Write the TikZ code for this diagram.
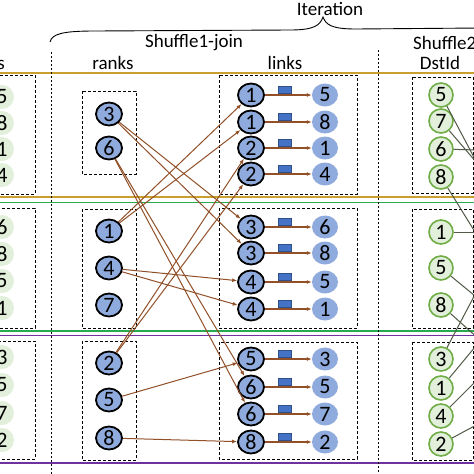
\documentclass[tikz,border=0pt]{standalone}
\usepackage{fontspec}
\setmainfont{Carlito}
\usetikzlibrary{arrows.meta,shapes.geometric}
\definecolor{gold}{RGB}{201,160,45}
\definecolor{grn}{RGB}{40,170,80}
\definecolor{purp}{RGB}{112,48,160}
\definecolor{blu}{RGB}{143,170,220}
\definecolor{rectc}{RGB}{68,114,196}
\definecolor{brn}{RGB}{145,80,40}
\definecolor{gfill}{RGB}{226,239,218}
\definecolor{gline}{RGB}{112,173,71}
\definecolor{dline}{RGB}{80,90,70}
\newcommand\digfont{\fontsize{22}{22}\selectfont}
\newcommand\hdrfont{\fontsize{19}{19}\selectfont}
\begin{document}
\begin{tikzpicture}[x=1pt,y=-1pt,
 rk/.style={ellipse,draw=black,line width=1.8pt,fill=blu,minimum width=26pt,minimum height=23pt,inner sep=0pt,font=\digfont},
 tg/.style={ellipse,fill=blu,minimum width=26pt,minimum height=23pt,inner sep=0pt,font=\digfont},
 dst/.style={circle,draw=gline,line width=1.6pt,fill=gfill,minimum size=24pt,inner sep=0pt,font=\digfont},
 lv/.style={circle,fill=gfill,minimum size=24pt,inner sep=0pt,font=\digfont},
 bx/.style={draw=black,line width=1pt,dash pattern=on 3pt off 2pt},
 hdr/.style={font=\hdrfont,inner sep=0pt},
 conn/.style={brn,line width=1pt,-{Latex[length=5pt,width=4pt]}},
 inarr/.style={brn,line width=1.4pt,-{Latex[length=5pt,width=4pt]}},
 sq/.style={rectangle,fill=rectc,draw=rectc!70!black,line width=0.3pt,minimum width=13pt,minimum height=7pt,inner sep=0pt},
 dl/.style={dline,line width=1pt},
 vsep/.style={black,line width=0.9pt,dash pattern=on 2pt off 2pt},
 hl/.style={line width=1.8pt}
]
\useasboundingbox (0,0) rectangle (474,474);
\clip (0,0) rectangle (474,474);
\fill[white] (0,0) rectangle (474,474);

% headers
\node[hdr] (hit) at (330,9) {Iteration};
\node[hdr] (hs1) at (194,43) {Shuffle1-join};
\node[hdr,anchor=west] (hs2) at (413,43) {Shuffle2};
\node[hdr] (hrk) at (113,63) {ranks};
\node[hdr] (hlk) at (285,63) {links};
\node[hdr] (hds) at (440,63) {DstId};
\node[hdr,anchor=east] (hlf) at (5,63) {ranks};

% brace
\draw[line width=0.9pt] (50,42) .. controls (52,34) and (62,31) .. (95,31) -- (290,30) .. controls (315,30) and (320,25) .. (323,17) .. controls (326,25) and (332,29) .. (356,29) -- (480,28);

% horizontal lines
\draw[gold,hl] (0,73) -- (474,73);
\draw[gold,hl] (0,197) -- (474,197);
\draw[grn,hl] (0,202.5) -- (474,202.5);
\draw[grn,hl] (0,331) -- (474,331);
\draw[purp,hl] (0,335.5) -- (474,335.5);
\draw[purp,hl] (0,463) -- (474,463);

% vertical separators
\draw[vsep] (51,52) -- (51,474);
\draw[vsep] (378,50) -- (378,474);

% boxes
\draw[bx] (-10,75) rectangle (35,194);
\draw[bx] (-10,208) rectangle (35,328);
\draw[bx] (-10,341) rectangle (35,459);
\draw[bx] (82,91) rectangle (136,174);
\draw[bx] (82,209) rectangle (136,328);
\draw[bx] (82,341) rectangle (136,460);
\draw[bx] (219,75) rectangle (357,194);
\draw[bx] (219,208) rectangle (357,328);
\draw[bx] (219,342) rectangle (357,459);
\draw[bx] (412,77) rectangle (473,193);
\draw[bx] (412,209) rectangle (473,328);
\draw[bx] (412,342) rectangle (473,460);

% left column values
\foreach \n/\y/\t in {1/97/5,2/123/8,3/149/1,4/175/4,5/227/6,6/254/8,7/281/5,8/308/1,9/357/3,10/385/5,11/413/7,12/440/2}
  \node[lv] (v\n) at (2,\y) {\t};

% ranks
\node[rk] (r3) at (109,114) {3};
\node[rk] (r6) at (109,148) {6};
\node[rk] (r1) at (109,231) {1};
\node[rk] (r4) at (109,268) {4};
\node[rk] (r7) at (109,305) {7};
\node[rk] (r2) at (109,363) {2};
\node[rk] (r5) at (109,400) {5};
\node[rk] (r8) at (109,438) {8};

% links
\foreach \n/\y/\a/\b in {1/95/1/5,2/122/1/8,3/148/2/1,4/174/2/4,5/227/3/6,6/253/3/8,7/282/4/5,8/309/4/1,9/359/5/3,10/387/6/5,11/414/6/7,12/442/8/2}{
  \node[rk] (s\n) at (251,\y) {\a};
  \node[tg] (t\n) at (325,\y) {\b};
  \node[sq] (b\n) at (284.5,\y-5) {};
  \draw[inarr] (s\n) -- (t\n);
}

% ranks -> links
\draw[conn] (r3) -- (s5);
\draw[conn] (r3) -- (s6);
\draw[conn] (r6) -- (s10);
\draw[conn] (r6) -- (s11);
\draw[conn] (r1) -- (s1);
\draw[conn] (r1) -- (s2);
\draw[conn] (r4) -- (s7);
\draw[conn] (r4) -- (s8);
\draw[conn] (r2) -- (s3);
\draw[conn] (r2) -- (s4);
\draw[conn] (r5) -- (s9);
\draw[conn] (r8) -- (s12);

% DstId
\foreach \n/\y/\t in {1/95/5,2/121/7,3/149/6,4/177/8,5/232/1,6/268/5,7/305/8,8/359/3,9/388/1,10/416/4,11/444/2}
  \node[dst] (d\n) at (441,\y) {\t};

\coordinate (e1) at (477,163);
\coordinate (e2) at (477,150);
\coordinate (e3) at (480,240);
\coordinate (e4) at (480,232);
\coordinate (e5) at (480,300);
\coordinate (e6) at (480,340);
\coordinate (e7) at (480,285);
\coordinate (e8) at (480,341);
\coordinate (e9) at (480,377);
\coordinate (e10) at (480,423);
\draw[dl] (d1) -- (e1);
\draw[dl] (d2) -- (e1);
\draw[dl] (d3) -- (e2);
\draw[dl] (d4) -- (e3);
\draw[dl] (d5) -- (e4);
\draw[dl] (d6) -- (e5);
\draw[dl] (d7) -- (e6);
\draw[dl] (d8) -- (e7);
\draw[dl] (d9) -- (e8);
\draw[dl] (d10) -- (e9);
\draw[dl] (d11) -- (e10);
\end{tikzpicture}
\end{document}
